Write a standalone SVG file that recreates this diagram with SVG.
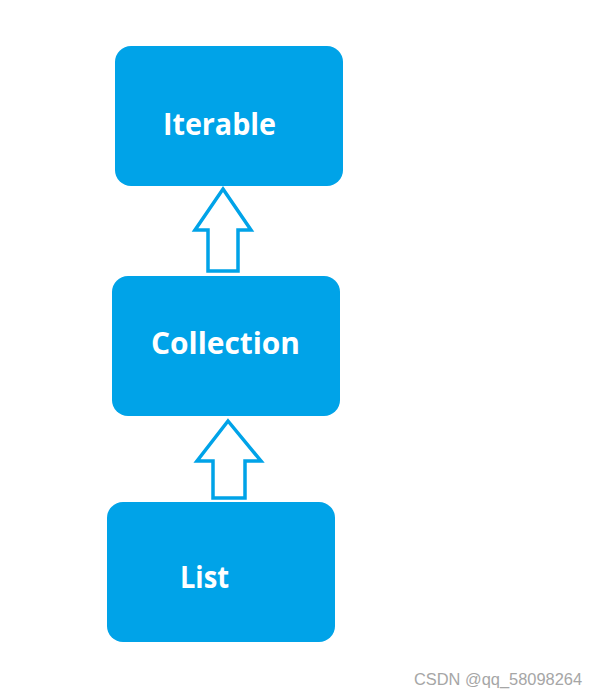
<svg xmlns="http://www.w3.org/2000/svg" width="599" height="697" viewBox="0 0 599 697">
<style>
.box{fill:#00a3e8;}
.lbl{font-family:"Open Sans","DejaVu Sans",sans-serif;font-weight:bold;font-size:31px;fill:#ffffff;}
.arr{fill:#ffffff;stroke:#00a3e8;stroke-width:3.5;stroke-linejoin:miter;}
.wm{font-family:"Liberation Sans",Arial,sans-serif;font-size:16px;fill:#a6a6a6;}
</style>
<rect width="599" height="697" fill="#ffffff"/>
<g id="connectors">
<polygon class="arr" points="223,189 251,230 238,230 238,271 208,271 208,230 195,230"/>
<polygon class="arr" points="228,421 261,461 245,461 245,498 213,498 213,461 197,461"/>
</g>
<g id="iterable">
<rect class="box" x="115" y="46" width="228" height="140" rx="16"/>
<text class="lbl" x="163" y="135" textLength="113" lengthAdjust="spacingAndGlyphs">Iterable</text>
</g>
<g id="collection">
<rect class="box" x="112" y="276" width="228" height="140" rx="16"/>
<text class="lbl" x="151" y="354" textLength="149" lengthAdjust="spacingAndGlyphs">Collection</text>
</g>
<g id="list">
<rect class="box" x="107" y="502" width="228" height="140" rx="16"/>
<text class="lbl" x="180" y="588" textLength="49" lengthAdjust="spacingAndGlyphs">List</text>
</g>
<text class="wm" x="414" y="685" textLength="168" lengthAdjust="spacingAndGlyphs">CSDN @qq_58098264</text>
</svg>
